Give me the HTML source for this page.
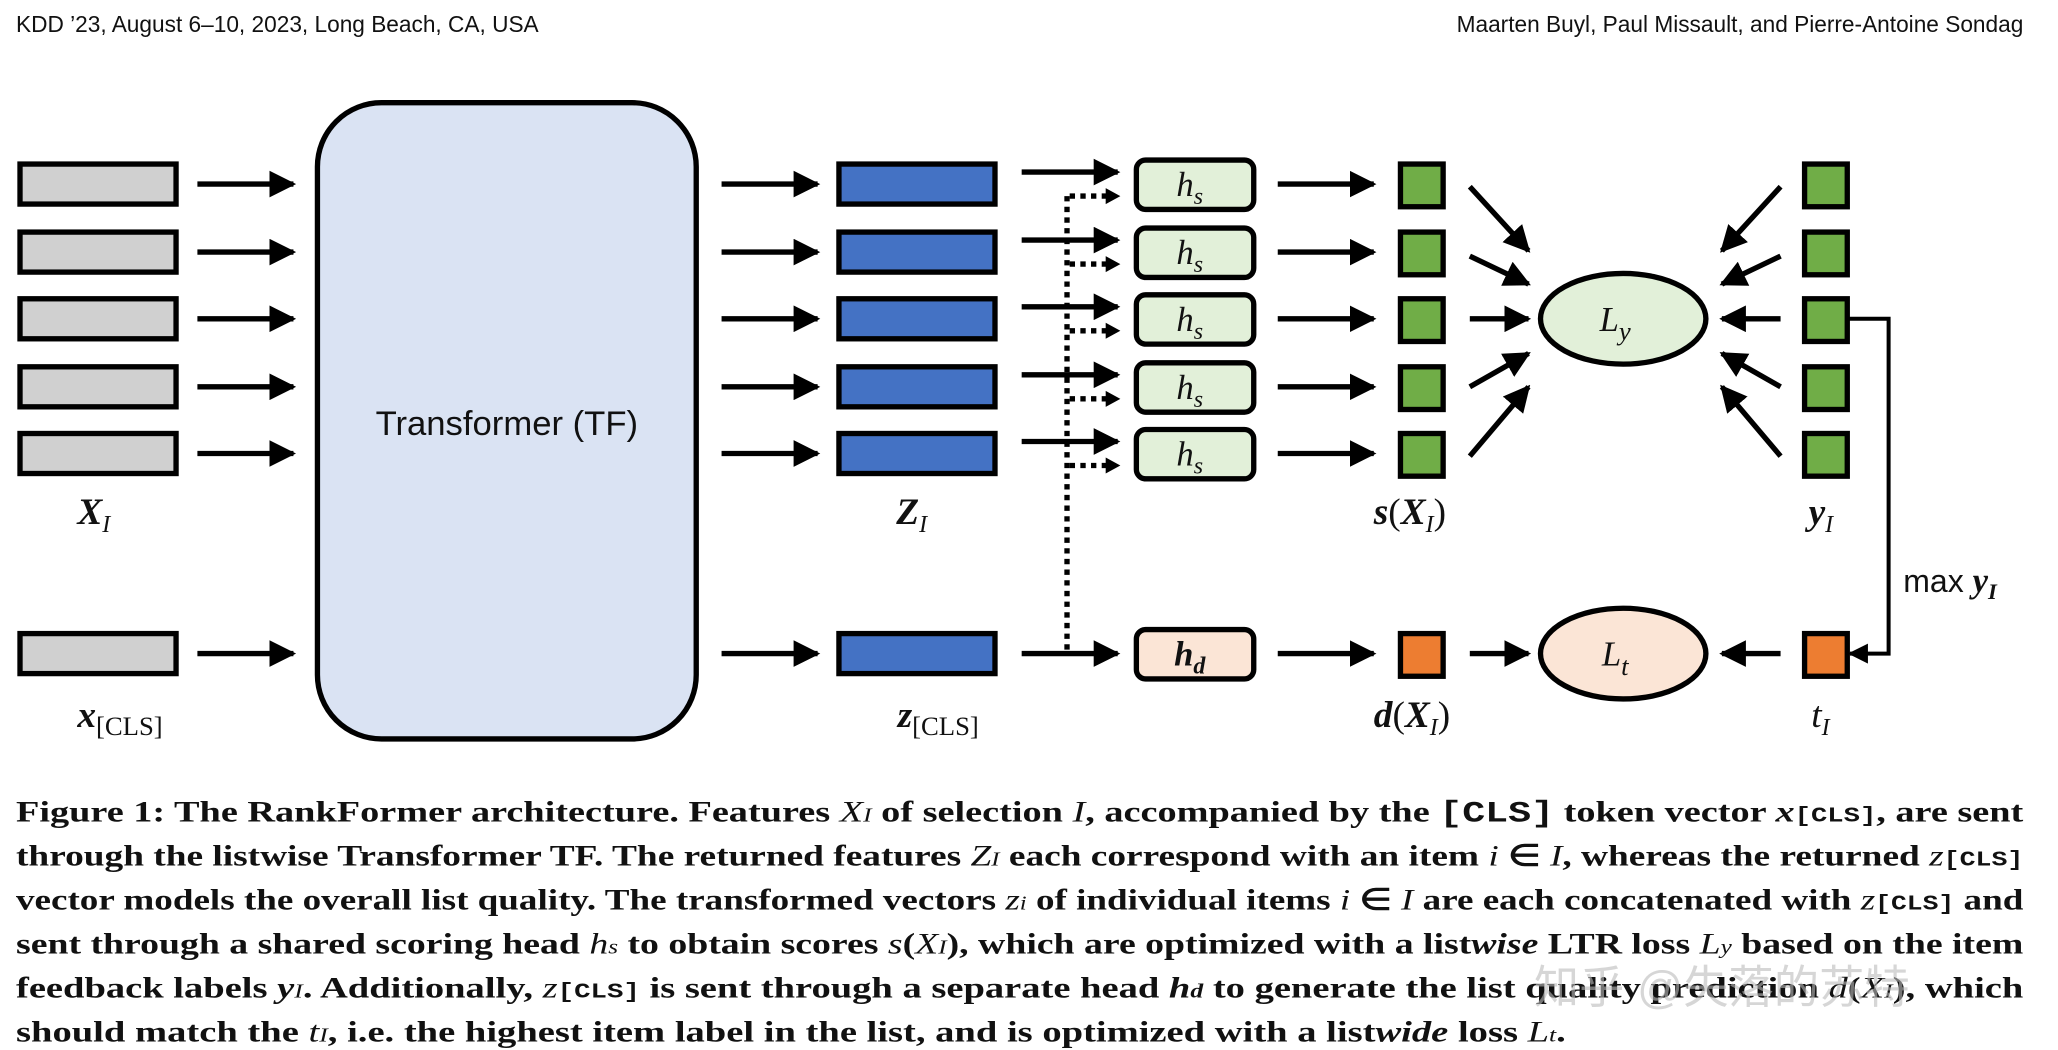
<!DOCTYPE html>
<html><head><meta charset="utf-8"><style>
html,body{margin:0;padding:0;background:#fff;}
svg{display:block;}
.hd{font-family:"Liberation Sans",sans-serif;font-size:17px;fill:#111;}
.cap{font-family:"Liberation Serif",serif;font-size:22.5px;font-weight:bold;fill:#111;}
.m{font-family:"Liberation Serif",serif;font-style:italic;font-weight:bold;fill:#111;}
.mi{font-family:"Liberation Serif",serif;font-style:italic;fill:#111;}
</style></head><body>
<svg width="2058" height="1050" viewBox="0 0 1543 787.2" preserveAspectRatio="none" xmlns="http://www.w3.org/2000/svg">
<defs>
<marker id="a" markerWidth="5" markerHeight="5" refX="4.5" refY="2.5" orient="auto" markerUnits="strokeWidth"><path d="M0,0 L5,2.5 L0,5 z" fill="#000"/></marker>
</defs>
<text class="hd" x="12" y="24">KDD ’23, August 6–10, 2023, Long Beach, CA, USA</text>
<text class="hd" x="1517" y="24" text-anchor="end">Maarten Buyl, Paul Missault, and Pierre-Antoine Sondag</text>

<g stroke="#000" stroke-width="4">
<rect x="238" y="77" width="284" height="477" rx="48" fill="#dae3f3"/>
<rect x="15" y="123" width="117" height="30" fill="#d0d0d0"/>
<rect x="15" y="174" width="117" height="30" fill="#d0d0d0"/>
<rect x="15" y="224" width="117" height="30" fill="#d0d0d0"/>
<rect x="15" y="275" width="117" height="30" fill="#d0d0d0"/>
<rect x="15" y="325" width="117" height="30" fill="#d0d0d0"/>
<rect x="15" y="475" width="117" height="30" fill="#d0d0d0"/>
<rect x="629" y="123" width="117" height="30" fill="#4472c4"/>
<rect x="629" y="174" width="117" height="30" fill="#4472c4"/>
<rect x="629" y="224" width="117" height="30" fill="#4472c4"/>
<rect x="629" y="275" width="117" height="30" fill="#4472c4"/>
<rect x="629" y="325" width="117" height="30" fill="#4472c4"/>
<rect x="629" y="475" width="117" height="30" fill="#4472c4"/>
<rect x="852" y="120" width="88" height="37" rx="7" fill="#e2f0d9"/>
<rect x="852" y="171" width="88" height="37" rx="7" fill="#e2f0d9"/>
<rect x="852" y="221" width="88" height="37" rx="7" fill="#e2f0d9"/>
<rect x="852" y="272" width="88" height="37" rx="7" fill="#e2f0d9"/>
<rect x="852" y="322" width="88" height="37" rx="7" fill="#e2f0d9"/>
<rect x="852" y="472" width="88" height="37" rx="7" fill="#fbe5d6"/>
<rect x="1050" y="123" width="32" height="32" fill="#70ad47"/>
<rect x="1050" y="174" width="32" height="32" fill="#70ad47"/>
<rect x="1050" y="224" width="32" height="32" fill="#70ad47"/>
<rect x="1050" y="275" width="32" height="32" fill="#70ad47"/>
<rect x="1050" y="325" width="32" height="32" fill="#70ad47"/>
<rect x="1050" y="475" width="32" height="32" fill="#ed7d31"/>
<rect x="1353" y="123" width="32" height="32" fill="#70ad47"/>
<rect x="1353" y="174" width="32" height="32" fill="#70ad47"/>
<rect x="1353" y="224" width="32" height="32" fill="#70ad47"/>
<rect x="1353" y="275" width="32" height="32" fill="#70ad47"/>
<rect x="1353" y="325" width="32" height="32" fill="#70ad47"/>
<rect x="1353" y="475" width="32" height="32" fill="#ed7d31"/>
<ellipse cx="1217" cy="239" rx="62" ry="34" fill="#e2f0d9"/>
<ellipse cx="1217" cy="490" rx="62" ry="34" fill="#fbe5d6"/>
</g>

<g stroke="#000" stroke-width="4" fill="none" marker-end="url(#a)">
<line x1="148" y1="138" x2="220" y2="138"/><line x1="148" y1="189" x2="220" y2="189"/><line x1="148" y1="239" x2="220" y2="239"/><line x1="148" y1="290" x2="220" y2="290"/><line x1="148" y1="340" x2="220" y2="340"/><line x1="148" y1="490" x2="220" y2="490"/>
<line x1="541" y1="138" x2="613" y2="138"/><line x1="541" y1="189" x2="613" y2="189"/><line x1="541" y1="239" x2="613" y2="239"/><line x1="541" y1="290" x2="613" y2="290"/><line x1="541" y1="340" x2="613" y2="340"/><line x1="541" y1="490" x2="613" y2="490"/>
<line x1="766" y1="129" x2="838" y2="129"/><line x1="766" y1="180" x2="838" y2="180"/><line x1="766" y1="230" x2="838" y2="230"/><line x1="766" y1="281" x2="838" y2="281"/><line x1="766" y1="331" x2="838" y2="331"/><line x1="766" y1="490" x2="838" y2="490"/>
<line x1="958" y1="138" x2="1030" y2="138"/><line x1="958" y1="189" x2="1030" y2="189"/><line x1="958" y1="239" x2="1030" y2="239"/><line x1="958" y1="290" x2="1030" y2="290"/><line x1="958" y1="340" x2="1030" y2="340"/><line x1="958" y1="490" x2="1030" y2="490"/>
<line x1="1102" y1="140" x2="1146" y2="188"/><line x1="1102" y1="192" x2="1146" y2="213"/><line x1="1102" y1="239" x2="1146" y2="239"/><line x1="1102" y1="290" x2="1146" y2="265"/><line x1="1102" y1="342" x2="1146" y2="290"/>
<line x1="1335" y1="140" x2="1291" y2="188"/><line x1="1335" y1="192" x2="1291" y2="213"/><line x1="1335" y1="239" x2="1291" y2="239"/><line x1="1335" y1="290" x2="1291" y2="265"/><line x1="1335" y1="342" x2="1291" y2="290"/>
<line x1="1102" y1="490" x2="1146" y2="490"/><line x1="1335" y1="490" x2="1291" y2="490"/>
<path d="M1385 239H1416V490H1387" stroke-width="3"/>
</g>
<g stroke="#000" stroke-width="4" fill="none" stroke-dasharray="4 4">
<path d="M800 147V490"/>
<path d="M802 147H830M802 198H830M802 248H830M802 299H830M802 349H830"/>
</g>
<g fill="#000">
<path d="M829 141L840 147L829 153z"/><path d="M829 192L840 198L829 204z"/><path d="M829 242L840 248L829 254z"/><path d="M829 293L840 299L829 305z"/><path d="M829 343L840 349L829 355z"/>
</g>

<text x="380" y="326" text-anchor="middle" font-family="'Liberation Sans',sans-serif" font-size="26" fill="#111">Transformer (TF)</text>

<g class="mi" font-size="26" text-anchor="middle">
<text x="892" y="147">h<tspan font-size="18" dy="6">s</tspan></text>
<text x="892" y="198">h<tspan font-size="18" dy="6">s</tspan></text>
<text x="892" y="248">h<tspan font-size="18" dy="6">s</tspan></text>
<text x="892" y="299">h<tspan font-size="18" dy="6">s</tspan></text>
<text x="892" y="349">h<tspan font-size="18" dy="6">s</tspan></text>
<text x="1211" y="248">L<tspan font-size="20" dy="7">y</tspan></text>
<text x="1211" y="499">L<tspan font-size="20" dy="7">t</tspan></text>
</g>
<text class="m" x="892" y="499" font-size="26" text-anchor="middle">h<tspan font-size="18" dy="6">d</tspan></text>

<g class="m" font-size="28">
<text x="58" y="393">X<tspan class="mi" font-weight="normal" font-size="18" dy="6">I</tspan></text>
<text x="672" y="393">Z<tspan class="mi" font-weight="normal" font-size="18" dy="6">I</tspan></text>
<text x="58" y="545">x<tspan font-family="'Liberation Serif',serif" font-style="normal" font-weight="normal" font-size="20" dy="6">[CLS]</tspan></text>
<text x="673" y="545">z<tspan font-family="'Liberation Serif',serif" font-style="normal" font-weight="normal" font-size="20" dy="6">[CLS]</tspan></text>
<text x="1030" y="393">s<tspan font-style="normal" font-weight="normal">(</tspan>X<tspan class="mi" font-weight="normal" font-size="18" dy="6">I</tspan><tspan font-style="normal" font-weight="normal" dy="-6">)</tspan></text>
<text x="1030" y="545">d<tspan font-style="normal" font-weight="normal">(</tspan>X<tspan class="mi" font-weight="normal" font-size="18" dy="6">I</tspan><tspan font-style="normal" font-weight="normal" dy="-6">)</tspan></text>
<text x="1356" y="393">y<tspan class="mi" font-weight="normal" font-size="18" dy="6">I</tspan></text>
<text x="1358" y="545" class="mi" font-weight="normal">t<tspan font-size="18" dy="6">I</tspan></text>
</g>
<text x="1427" y="444" font-family="'Liberation Sans',sans-serif" font-size="24" fill="#111">max <tspan class="m" font-size="26">y</tspan><tspan class="m" font-size="17" dy="5">I</tspan></text>

<g class="cap">
<text x="12" y="616" textLength="1505" lengthAdjust="spacingAndGlyphs">Figure 1: The RankFormer architecture. Features <tspan class="mi" font-weight="normal">X<tspan font-size="15">I</tspan></tspan> of selection <tspan class="mi" font-weight="normal">I</tspan>, accompanied by the <tspan font-family="'Liberation Mono',monospace">[CLS]</tspan> token vector <tspan class="m">x</tspan><tspan font-family="'Liberation Mono',monospace" font-size="16">[CLS]</tspan>, are sent</text>
<text x="12" y="649" textLength="1505" lengthAdjust="spacingAndGlyphs">through the listwise Transformer TF. The returned features <tspan class="mi" font-weight="normal">Z<tspan font-size="15">I</tspan></tspan> each correspond with an item <tspan class="mi" font-weight="normal">i</tspan> ∈ <tspan class="mi" font-weight="normal">I</tspan>, whereas the returned <tspan class="mi" font-weight="normal">z</tspan><tspan font-family="'Liberation Mono',monospace" font-size="16">[CLS]</tspan></text>
<text x="12" y="682" textLength="1505" lengthAdjust="spacingAndGlyphs">vector models the overall list quality. The transformed vectors <tspan class="mi" font-weight="normal">z<tspan font-size="15">i</tspan></tspan> of individual items <tspan class="mi" font-weight="normal">i</tspan> ∈ <tspan class="mi" font-weight="normal">I</tspan> are each concatenated with <tspan class="mi" font-weight="normal">z</tspan><tspan font-family="'Liberation Mono',monospace" font-size="16">[CLS]</tspan> and</text>
<text x="12" y="715" textLength="1505" lengthAdjust="spacingAndGlyphs">sent through a shared scoring head <tspan class="mi" font-weight="normal">h<tspan font-size="15">s</tspan></tspan> to obtain scores <tspan class="mi" font-weight="normal">s</tspan>(<tspan class="mi" font-weight="normal">X<tspan font-size="15">I</tspan></tspan>), which are optimized with a list<tspan font-style="italic">wise</tspan> LTR loss <tspan class="mi" font-weight="normal">L<tspan font-size="15">y</tspan></tspan> based on the item</text>
<text x="12" y="748" textLength="1505" lengthAdjust="spacingAndGlyphs">feedback labels <tspan class="m">y</tspan><tspan class="mi" font-weight="normal" font-size="15">I</tspan>. Additionally, <tspan class="mi" font-weight="normal">z</tspan><tspan font-family="'Liberation Mono',monospace" font-size="16">[CLS]</tspan> is sent through a separate head <tspan class="m">h</tspan><tspan class="mi" font-size="15">d</tspan> to generate the list quality prediction <tspan class="mi" font-weight="normal">d</tspan>(<tspan class="mi" font-weight="normal">X<tspan font-size="15">I</tspan></tspan>), which</text>
<text x="12" y="781" textLength="1162" lengthAdjust="spacingAndGlyphs">should match the <tspan class="mi" font-weight="normal">t<tspan font-size="15">I</tspan></tspan>, i.e. the highest item label in the list, and is optimized with a list<tspan font-style="italic">wide</tspan> loss <tspan class="mi" font-weight="normal">L<tspan font-size="15">t</tspan></tspan>.</text>
</g>
<text x="1150" y="752" font-family="'Liberation Sans','Noto Sans CJK SC',sans-serif" font-size="34" fill="#bbb" fill-opacity="0.6">知乎 @失落的苏特</text>
</svg>
</body></html>
